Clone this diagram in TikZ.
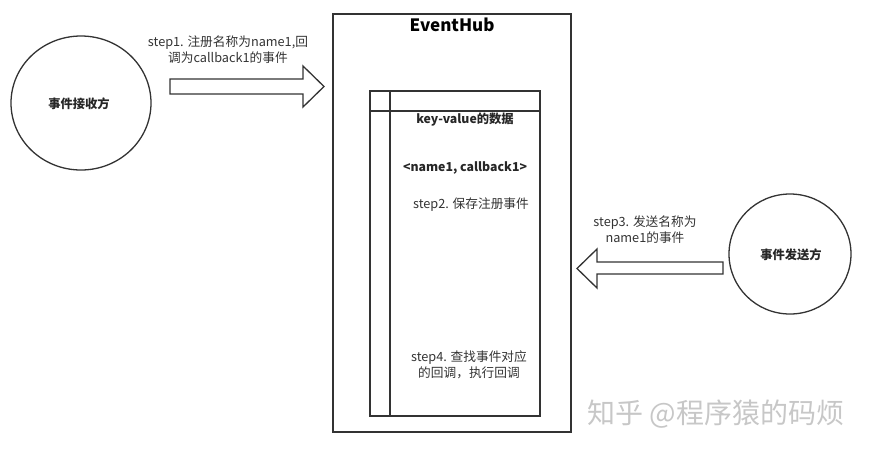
\documentclass[tikz,border=0pt]{standalone}
\usepackage{fontspec}
\setmainfont{Noto Sans CJK SC}
\begin{document}
\begin{tikzpicture}[x=1pt,y=-1pt,
  line/.style={draw=black!80,line width=1.4pt},
  lbl/.style={font=\fontsize{12.7}{15.5}\selectfont,text=black!80,align=center,inner sep=0pt},
  blbl/.style={font=\fontsize{12.3}{15}\selectfont\bfseries,text=black!85,align=center,inner sep=0pt},
  wm/.style={font=\fontsize{28}{30}\selectfont,text=black!22,inner sep=0pt}]
\useasboundingbox (0,0) rectangle (870,451);
% EventHub outer box
\draw[line] (333,14) rectangle (571,432);
\node[font=\fontsize{17}{19}\selectfont\bfseries,inner sep=0pt] (title) at (452,25) {EventHub};
% inner table
\draw[line] (370,91) rectangle (540,416);
\draw[line] (370,111) -- (540,111);
\draw[line] (390,91) -- (390,416);
\node[blbl] (kv) at (465,120) {key-value的数据};
\node[blbl] (pair) at (465,168) {<name1, callback1>};
\node[lbl] (s2) at (471,205) {step2. 保存注册事件};
\node[lbl] (s4) at (469,365) {step4. 查找事件对应\\的回调，执行回调};
% circles
\draw[line,line width=1.3pt] (81,103) ellipse (70 and 67);
\node[blbl] (recv) at (79,104) {事件接收方};
\draw[line,line width=1.3pt] (790,254) ellipse (61 and 60);
\node[blbl] (send) at (791,255) {事件发送方};
% step1 arrow
\draw[line,line width=1.3pt,fill=white] (170,79) -- (303,79) -- (303,66) -- (324,86.5) -- (303,107) -- (303,94) -- (170,94) -- cycle;
\node[lbl] (s1) at (228,49.5) {step1. 注册名称为name1,回\\调为callback1的事件};
% step3 arrow
\draw[line,line width=1.3pt,fill=white] (723,262) -- (597,262) -- (597,249) -- (577,268.5) -- (597,288) -- (597,274) -- (723,274) -- cycle;
\node[lbl] (s3) at (645,229.5) {step3. 发送名称为\\name1的事件};
% watermark
\node[wm] (wmk) at (716,414) {知乎 @程序猿的码烦};
\end{tikzpicture}
\end{document}
